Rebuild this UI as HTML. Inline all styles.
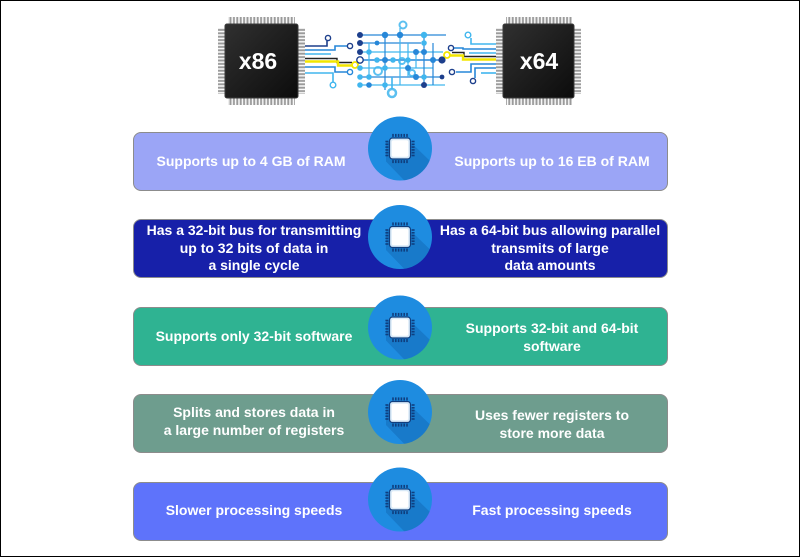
<!DOCTYPE html>
<html><head><meta charset="utf-8">
<style>
html,body{margin:0;padding:0;background:#fff;}
#page{position:relative;width:800px;height:557px;box-sizing:border-box;border:1px solid #000;overflow:hidden;background:#fff;font-family:"Liberation Sans",Arial,sans-serif;}
.bar{position:absolute;left:132px;width:535px;height:59px;box-sizing:border-box;border:1px solid #8c8c8c;border-radius:8px;}
.t{position:absolute;width:240px;height:59px;display:flex;align-items:center;justify-content:center;text-align:center;color:#fff;font-weight:bold;font-size:14px;line-height:17.5px;white-space:nowrap;}
.l{left:133px;}
.r{left:431px;}
svg{position:absolute;left:0;top:0;}
</style></head>
<body><div id="page">

<div class="bar" style="top:131px;background:#9ba5f6;"></div>
<div class="bar" style="top:218px;background:#1720a9;"></div>
<div class="bar" style="top:306px;background:#2fb392;"></div>
<div class="bar" style="top:393px;background:#6e9d8e;"></div>
<div class="bar" style="top:481px;background:#5e73fb;"></div>

<div class="t l" style="top:131px;left:130px;">Supports up to 4 GB of RAM</div>
<div class="t r" style="top:131px;">Supports up to 16 EB of RAM</div>

<div class="t l" style="top:218px;">Has a 32-bit bus for transmitting<br>up to 32 bits of data in<br>a single cycle</div>
<div class="t r" style="top:218px;left:429px;">Has a 64-bit bus allowing parallel<br>transmits of large<br>data amounts</div>

<div class="t l" style="top:306px;">Supports only 32-bit software</div>
<div class="t r" style="top:307px;">Supports 32-bit and 64-bit<br>software</div>

<div class="t l" style="top:391px;">Splits and stores data in<br>a large number of registers</div>
<div class="t r" style="top:394px;">Uses fewer registers to<br>store more data</div>

<div class="t l" style="top:480px;">Slower processing speeds</div>
<div class="t r" style="top:480px;">Fast processing speeds</div>

<svg width="800" height="557" viewBox="0 0 800 557">
<defs>
  <pattern id="ph" width="3.4" height="8" patternUnits="userSpaceOnUse"><rect x="0.7" y="0" width="2" height="8" fill="#9a9a9a"/></pattern>
  <pattern id="pv" width="8" height="3.4" patternUnits="userSpaceOnUse"><rect x="0" y="0.7" width="8" height="2" fill="#9a9a9a"/></pattern>
  <linearGradient id="cg" x1="0" y1="0" x2="1" y2="1"><stop offset="0" stop-color="#303030"/><stop offset="1" stop-color="#0c0c0c"/></linearGradient>
  <clipPath id="cc"><circle cx="0" cy="0" r="32"/></clipPath>
  <g id="ic">
    <circle cx="0" cy="0" r="32" fill="#1e8ce0"/>
    <polygon clip-path="url(#cc)" points="-14,-7 -14,13 14,42 44,42 44,26 14,-3" fill="#0a4a94" opacity="0.28"/>
    <g fill="#0f3e7e">
      <rect x="-7.8" y="-14.6" width="1.6" height="3"/><rect x="-5.0" y="-14.6" width="1.6" height="3"/><rect x="-2.2" y="-14.6" width="1.6" height="3"/><rect x="0.6" y="-14.6" width="1.6" height="3"/><rect x="3.4" y="-14.6" width="1.6" height="3"/><rect x="6.2" y="-14.6" width="1.6" height="3"/>
      <rect x="-7.8" y="11.6" width="1.6" height="3"/><rect x="-5.0" y="11.6" width="1.6" height="3"/><rect x="-2.2" y="11.6" width="1.6" height="3"/><rect x="0.6" y="11.6" width="1.6" height="3"/><rect x="3.4" y="11.6" width="1.6" height="3"/><rect x="6.2" y="11.6" width="1.6" height="3"/>
      <rect y="-7.8" x="-14.6" height="1.6" width="3"/><rect y="-5.0" x="-14.6" height="1.6" width="3"/><rect y="-2.2" x="-14.6" height="1.6" width="3"/><rect y="0.6" x="-14.6" height="1.6" width="3"/><rect y="3.4" x="-14.6" height="1.6" width="3"/><rect y="6.2" x="-14.6" height="1.6" width="3"/>
      <rect y="-7.8" x="11.6" height="1.6" width="3"/><rect y="-5.0" x="11.6" height="1.6" width="3"/><rect y="-2.2" x="11.6" height="1.6" width="3"/><rect y="0.6" x="11.6" height="1.6" width="3"/><rect y="3.4" x="11.6" height="1.6" width="3"/><rect y="6.2" x="11.6" height="1.6" width="3"/>
    </g>
    <rect x="-10.5" y="-10.5" width="21" height="21" rx="3" fill="#d8e9f7" stroke="#0f3e7e" stroke-width="1.2"/>
    <rect x="-8.3" y="-8.3" width="16.6" height="16.6" rx="2" fill="#ffffff"/>
  </g>
</defs>

<!-- x86 chip -->
<rect x="227" y="16" width="67" height="8" fill="url(#ph)"/>
<rect x="227" y="96" width="67" height="8" fill="url(#ph)"/>
<rect x="217" y="27" width="8" height="66" fill="url(#pv)"/>
<rect x="296" y="27" width="8" height="66" fill="url(#pv)"/>
<rect x="224" y="23" width="73" height="74" rx="2" fill="url(#cg)" stroke="#3a3a3a" stroke-width="1"/>
<text x="257" y="68" text-anchor="middle" font-family="Liberation Sans, Arial, sans-serif" font-weight="bold" font-size="23" fill="#fff">x86</text>

<!-- x64 chip -->
<rect x="505" y="16" width="66" height="8" fill="url(#ph)"/>
<rect x="505" y="96" width="66" height="8" fill="url(#ph)"/>
<rect x="495" y="27" width="8" height="66" fill="url(#pv)"/>
<rect x="572" y="27" width="8" height="66" fill="url(#pv)"/>
<rect x="502" y="23" width="71" height="74" rx="2" fill="url(#cg)" stroke="#3a3a3a" stroke-width="1"/>
<text x="538" y="68" text-anchor="middle" font-family="Liberation Sans, Arial, sans-serif" font-weight="bold" font-size="23" fill="#fff">x64</text>

<!-- circuit -->
<g fill="none" stroke-width="1.6">
  <path d="M304 45H326V40" stroke="#1d3f8c"/>
  <path d="M304 49H334V45H346" stroke="#2787d8"/>
  <path d="M304 53H330" stroke="#40b6ee"/>
  <path d="M304 57.5H336V61.5H351" stroke="#222" stroke-width="1.4"/>
  <path d="M304 60.5H337V64.5H351" stroke="#f3e600" stroke-width="2.4"/>
  <path d="M304 66H334V71H346" stroke="#2787d8"/>
  <path d="M304 72H332V81" stroke="#40b6ee"/>

  <path d="M356 34H445" stroke="#2787d8" stroke-width="1.2"/>
  <path d="M359 42H420" stroke="#2787d8" stroke-width="1.2"/>
  <path d="M359 51H442" stroke="#40b6ee" stroke-width="1.2"/>
  <path d="M359 59H441" stroke="#2787d8" stroke-width="1.4"/>
  <path d="M359 67H432" stroke="#40b6ee" stroke-width="1.2"/>
  <path d="M359 76H440" stroke="#2787d8" stroke-width="1.2"/>
  <path d="M359 84H444" stroke="#40b6ee" stroke-width="1.2"/>
  <path d="M384 34V89" stroke="#2787d8" stroke-width="1.2"/>
  <path d="M399 27V84" stroke="#40b6ee" stroke-width="1.2"/>
  <path d="M423 34V84" stroke="#2787d8" stroke-width="1.2"/>
  <path d="M368 42V76" stroke="#40b6ee" stroke-width="1.2"/>
  <path d="M407 42V76" stroke="#40b6ee" stroke-width="1.2"/>
  <path d="M432 42V84" stroke="#2787d8" stroke-width="1.2"/>
  <path d="M415 51V67" stroke="#40b6ee" stroke-width="1.2"/>
  <path d="M391 76V88" stroke="#40b6ee" stroke-width="1.6"/>

  <path d="M495 43H470V37" stroke="#40b6ee"/>
  <path d="M495 48H462V47H453" stroke="#2787d8"/>
  <path d="M495 52H468" stroke="#40b6ee"/>
  <path d="M495 55.5H463V51.5H451" stroke="#222" stroke-width="1.4"/>
  <path d="M495 58.5H462V54.5H449" stroke="#f3e600" stroke-width="2.4"/>
  <path d="M495 63H470V71H455" stroke="#2787d8"/>
  <path d="M495 67H474V77" stroke="#2787d8"/>
  <path d="M495 72H480" stroke="#40b6ee"/>
</g>
<g fill="#fff" stroke-width="1.4">
  <circle cx="327" cy="37" r="2.6" stroke="#1d3f8c"/>
  <circle cx="349" cy="45" r="2.6" stroke="#1d3f8c"/>
  <circle cx="354" cy="64" r="3" stroke="#f3e600" stroke-width="1.8"/>
  <circle cx="349" cy="71" r="2.6" stroke="#2787d8"/>
  <circle cx="332" cy="84" r="2.8" stroke="#40b6ee"/>
  <circle cx="467" cy="34" r="2.8" stroke="#40b6ee"/>
  <circle cx="450" cy="47" r="2.6" stroke="#1d3f8c"/>
  <circle cx="446" cy="54" r="3" stroke="#f3e600" stroke-width="1.8"/>
  <circle cx="451" cy="71" r="2.6" stroke="#1d3f8c"/>
  <circle cx="472" cy="80" r="2.6" stroke="#1d3f8c"/>
  <circle cx="359" cy="59" r="3.2" stroke="#1d3f8c"/>
</g>
<g fill="none" stroke="#40b6ee" stroke-width="2" opacity="0.85">
  <circle cx="402" cy="24" r="3.5"/>
  <circle cx="377" cy="70" r="4"/>
  <circle cx="391" cy="92" r="4" stroke-width="2.5"/>
  <circle cx="401" cy="60" r="3"/>
  <circle cx="411" cy="72" r="3"/>
</g>
<g>
  <circle cx="359" cy="34" r="3" fill="#1d3f8c"/>
  <circle cx="359" cy="42" r="3" fill="#1d3f8c"/>
  <circle cx="359" cy="51" r="3" fill="#1d3f8c"/>
  <circle cx="359" cy="67" r="2.8" fill="#40b6ee"/>
  <circle cx="359" cy="76" r="2.8" fill="#40b6ee"/>
  <circle cx="359" cy="84" r="2.8" fill="#40b6ee"/>
  <circle cx="384" cy="34" r="3.2" fill="#2787d8"/>
  <circle cx="399" cy="34" r="3.2" fill="#2787d8"/>
  <circle cx="423" cy="34" r="3.2" fill="#40b6ee"/>
  <circle cx="376" cy="42" r="2.4" fill="#2787d8"/>
  <circle cx="423" cy="42" r="2.8" fill="#40b6ee"/>
  <circle cx="368" cy="51" r="2.8" fill="#40b6ee"/>
  <circle cx="415" cy="51" r="3" fill="#2787d8"/>
  <circle cx="423" cy="51" r="3" fill="#2787d8"/>
  <circle cx="376" cy="59" r="2.8" fill="#40b6ee"/>
  <circle cx="384" cy="59" r="3" fill="#2787d8"/>
  <circle cx="392" cy="59" r="2.8" fill="#40b6ee"/>
  <circle cx="407" cy="59" r="2.8" fill="#40b6ee"/>
  <circle cx="432" cy="59" r="3" fill="#2787d8"/>
  <circle cx="441" cy="59" r="3.6" fill="#1d3f8c"/>
  <circle cx="384" cy="67" r="2.8" fill="#40b6ee"/>
  <circle cx="407" cy="67" r="3" fill="#2787d8"/>
  <circle cx="368" cy="76" r="2.8" fill="#40b6ee"/>
  <circle cx="415" cy="76" r="3" fill="#2787d8"/>
  <circle cx="423" cy="76" r="2.8" fill="#40b6ee"/>
  <circle cx="441" cy="76" r="2.4" fill="#1d3f8c"/>
  <circle cx="368" cy="84" r="2.8" fill="#2787d8"/>
  <circle cx="384" cy="84" r="2.8" fill="#40b6ee"/>
  <circle cx="423" cy="84" r="3" fill="#1d3f8c"/>
</g>

<!-- circle icons -->
<use href="#ic" x="399" y="147.5"/>
<use href="#ic" x="399" y="236"/>
<use href="#ic" x="399" y="326.5"/>
<use href="#ic" x="399" y="411"/>
<use href="#ic" x="399" y="498.5"/>
</svg>

</div></body></html>
